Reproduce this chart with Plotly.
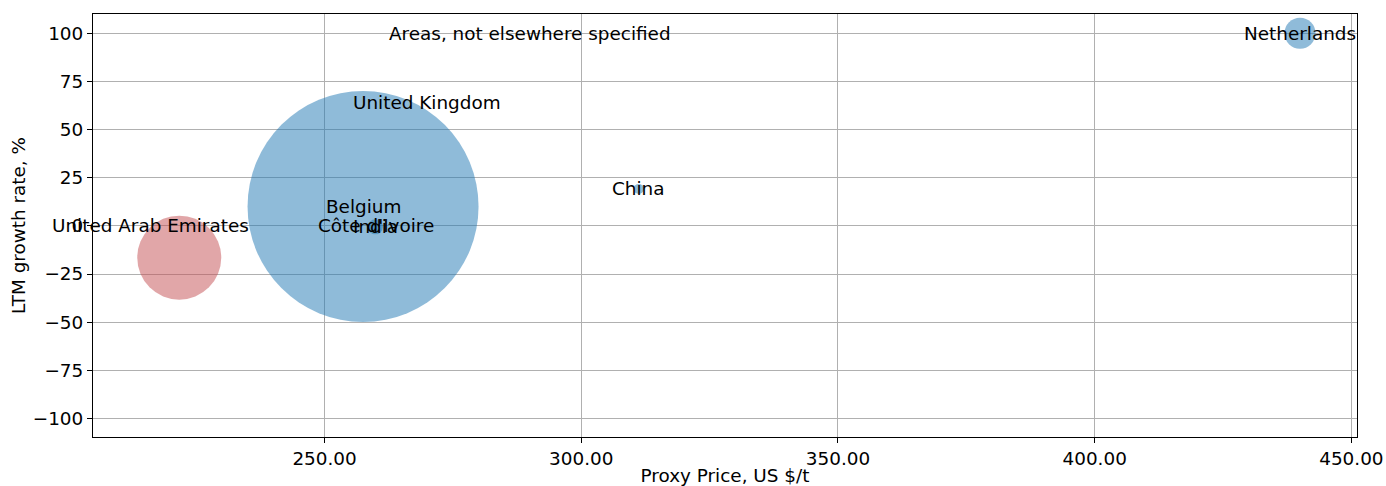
import plotly.graph_objects as go

# ---- data ----
countries = ["Belgium", "India", "China", "Netherlands", "United Kingdom",
             "Areas, not elsewhere specified", "Côte d'Ivoire", "United Arab Emirates"]
proxy_price = [257.5, 259.9, 311.2, 440.0, 269.9, 290.0, 260.0, 216.1]
ltm_growth = [10.1, -0.5, 19.2, 100.0, 64.0, 100.0, 0.0, 0.0]
volume = [53400, 225, 100, 960, 0, 0, 0, 0]

# highlighted (red) bubble, unlabeled in the reference
highlight_price = [221.7]
highlight_growth = [-16.5]
highlight_volume = [7060]

x_ticks = [250, 300, 350, 400, 450]
y_ticks = [-100, -75, -50, -25, 0, 25, 50, 75, 100]

FONT = "DejaVu Sans"
FS = 18.4
max_diam = 231
sizeref = 2.0 * max(volume + highlight_volume) / max_diam ** 2

fig = go.Figure()

fig.add_trace(go.Scatter(
    x=highlight_price, y=highlight_growth, mode="markers",
    marker=dict(size=highlight_volume, sizemode="area", sizeref=sizeref,
                color="#c44e52", opacity=0.5, line=dict(width=0)),
    hoverinfo="skip", showlegend=False, cliponaxis=False))

fig.add_trace(go.Scatter(
    x=proxy_price, y=ltm_growth, mode="markers",
    marker=dict(size=volume, sizemode="area", sizeref=sizeref,
                color="#1f77b4", opacity=0.5, line=dict(width=0)),
    hoverinfo="skip", showlegend=False, cliponaxis=False))

for name, px, gy in zip(countries, proxy_price, ltm_growth):
    fig.add_annotation(x=px, y=gy, xref="x", yref="y", text=name,
                       showarrow=False, xanchor="center", yanchor="middle",
                       font=dict(family=FONT, size=FS, color="black"))

axis_common = dict(
    showline=True, linecolor="black", linewidth=1.1, mirror=True,
    showgrid=True, gridcolor="#b0b0b0", gridwidth=1.1,
    ticks="outside", ticklen=5, tickwidth=1.1, tickcolor="black",
    zeroline=False, automargin=False,
    tickfont=dict(family=FONT, size=FS, color="black"),
)

fig.update_xaxes(range=[204.9, 451.1], tickvals=x_ticks, tickformat=".2f",
                 title=dict(text="Proxy Price, US $/t",
                            font=dict(family=FONT, size=FS, color="black"),
                            standoff=6),
                 **axis_common)
fig.update_yaxes(range=[-109.6, 110], tickvals=y_ticks,
                 title=dict(text="LTM growth rate, %",
                            font=dict(family=FONT, size=FS, color="black"),
                            standoff=2),
                 **axis_common)

fig.update_layout(
    width=1386, height=486,
    margin=dict(l=93, r=29, t=14, b=49),
    plot_bgcolor="white", paper_bgcolor="white",
    font=dict(family=FONT, size=FS, color="black"),
)

fig.write_html(
    "out.html",
    config={"displayModeBar": False},
    post_script="document.body.style.margin='0';document.body.style.padding='0';"
                "document.documentElement.style.overflow='hidden';",
)
